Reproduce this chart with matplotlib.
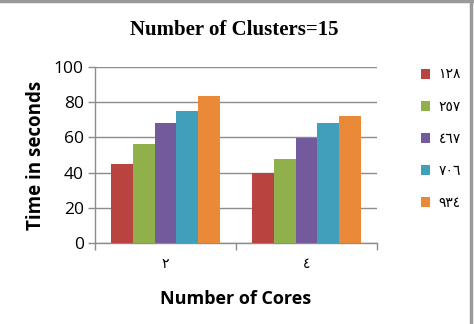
import matplotlib
matplotlib.use("Agg")
import matplotlib.pyplot as plt
import numpy as np
from matplotlib.lines import Line2D

categories = ["٢", "٤"]
series_names = ["١٢٨", "٢٥٧", "٤٦٧", "٧٠٦", "٩٣٤"]
values_128 = [45, 40]
values_257 = [56.5, 47.5]
values_467 = [68, 59.5]
values_706 = [75, 68]
values_934 = [83.5, 72]
series_values = [values_128, values_257, values_467, values_706, values_934]
colors = ["#B7443F", "#90B04C", "#735A9C", "#40A0BC", "#EA8A39"]

fig = plt.figure(figsize=(4.74, 3.24), dpi=100)
ax = fig.add_axes([95/474, 1-243/324, 282/474, 176/324])

x = np.arange(len(categories))
bw = 0.154
n = len(series_names)
for i, (name, vals, c) in enumerate(zip(series_names, series_values, colors)):
    ax.bar(x + (i - (n-1)/2) * bw, vals, bw, color=c, label=name, zorder=3)

ax.set_xlim(-0.5, 1.5)
ax.set_ylim(0, 100)
ax.set_yticks(np.arange(0, 101, 20))
ax.grid(axis="y", color="#8c8c8c", linewidth=1.0, zorder=0)
ax.set_xticks([-0.5, 0.5, 1.5])
ax.set_xticklabels([])
ax.set_xticks(x, minor=True)
ax.set_xticklabels(categories, minor=True, fontsize=10, family=["DejaVu Sans"])
ax.tick_params(axis="x", which="minor", length=0, pad=10)
ax.tick_params(axis="x", which="major", length=5, color="#8c8c8c", width=1)
ax.tick_params(axis="y", length=5, color="#8c8c8c", width=1, labelsize=12.5, pad=3)
for lab in ax.get_yticklabels():
    lab.set_family("Open Sans")
for s in ["top", "right"]:
    ax.spines[s].set_visible(False)
for s in ["left", "bottom"]:
    ax.spines[s].set_color("#8c8c8c")
    ax.spines[s].set_linewidth(1)

ax.set_ylabel("Time in seconds", fontsize=13.5, fontweight="bold", family="Open Sans", labelpad=6)
ax.set_xlabel("Number of Cores", fontsize=13, fontweight="bold", family="Open Sans", labelpad=14)
fig.text(0.494, 1-30/324, "Number of Clusters=15", ha="center", va="center",
         fontsize=15, fontweight="bold", family="Liberation Serif")

leg = ax.legend(loc="upper left", bbox_to_anchor=(408/474, 1-55/324), bbox_transform=fig.transFigure,
                frameon=False, handlelength=0.7, handleheight=0.7, labelspacing=1.3,
                handletextpad=0.6, prop={"family": "DejaVu Sans", "size": 10})

# figure border (top and right)
fig.add_artist(Line2D([0, 1], [1-1/324, 1-1/324], transform=fig.transFigure, color="#9a9a9a", linewidth=2.5))
fig.add_artist(Line2D([1-3/474, 1-3/474], [0, 1], transform=fig.transFigure, color="#9a9a9a", linewidth=2.5))

fig.savefig("out.png", dpi=100)
